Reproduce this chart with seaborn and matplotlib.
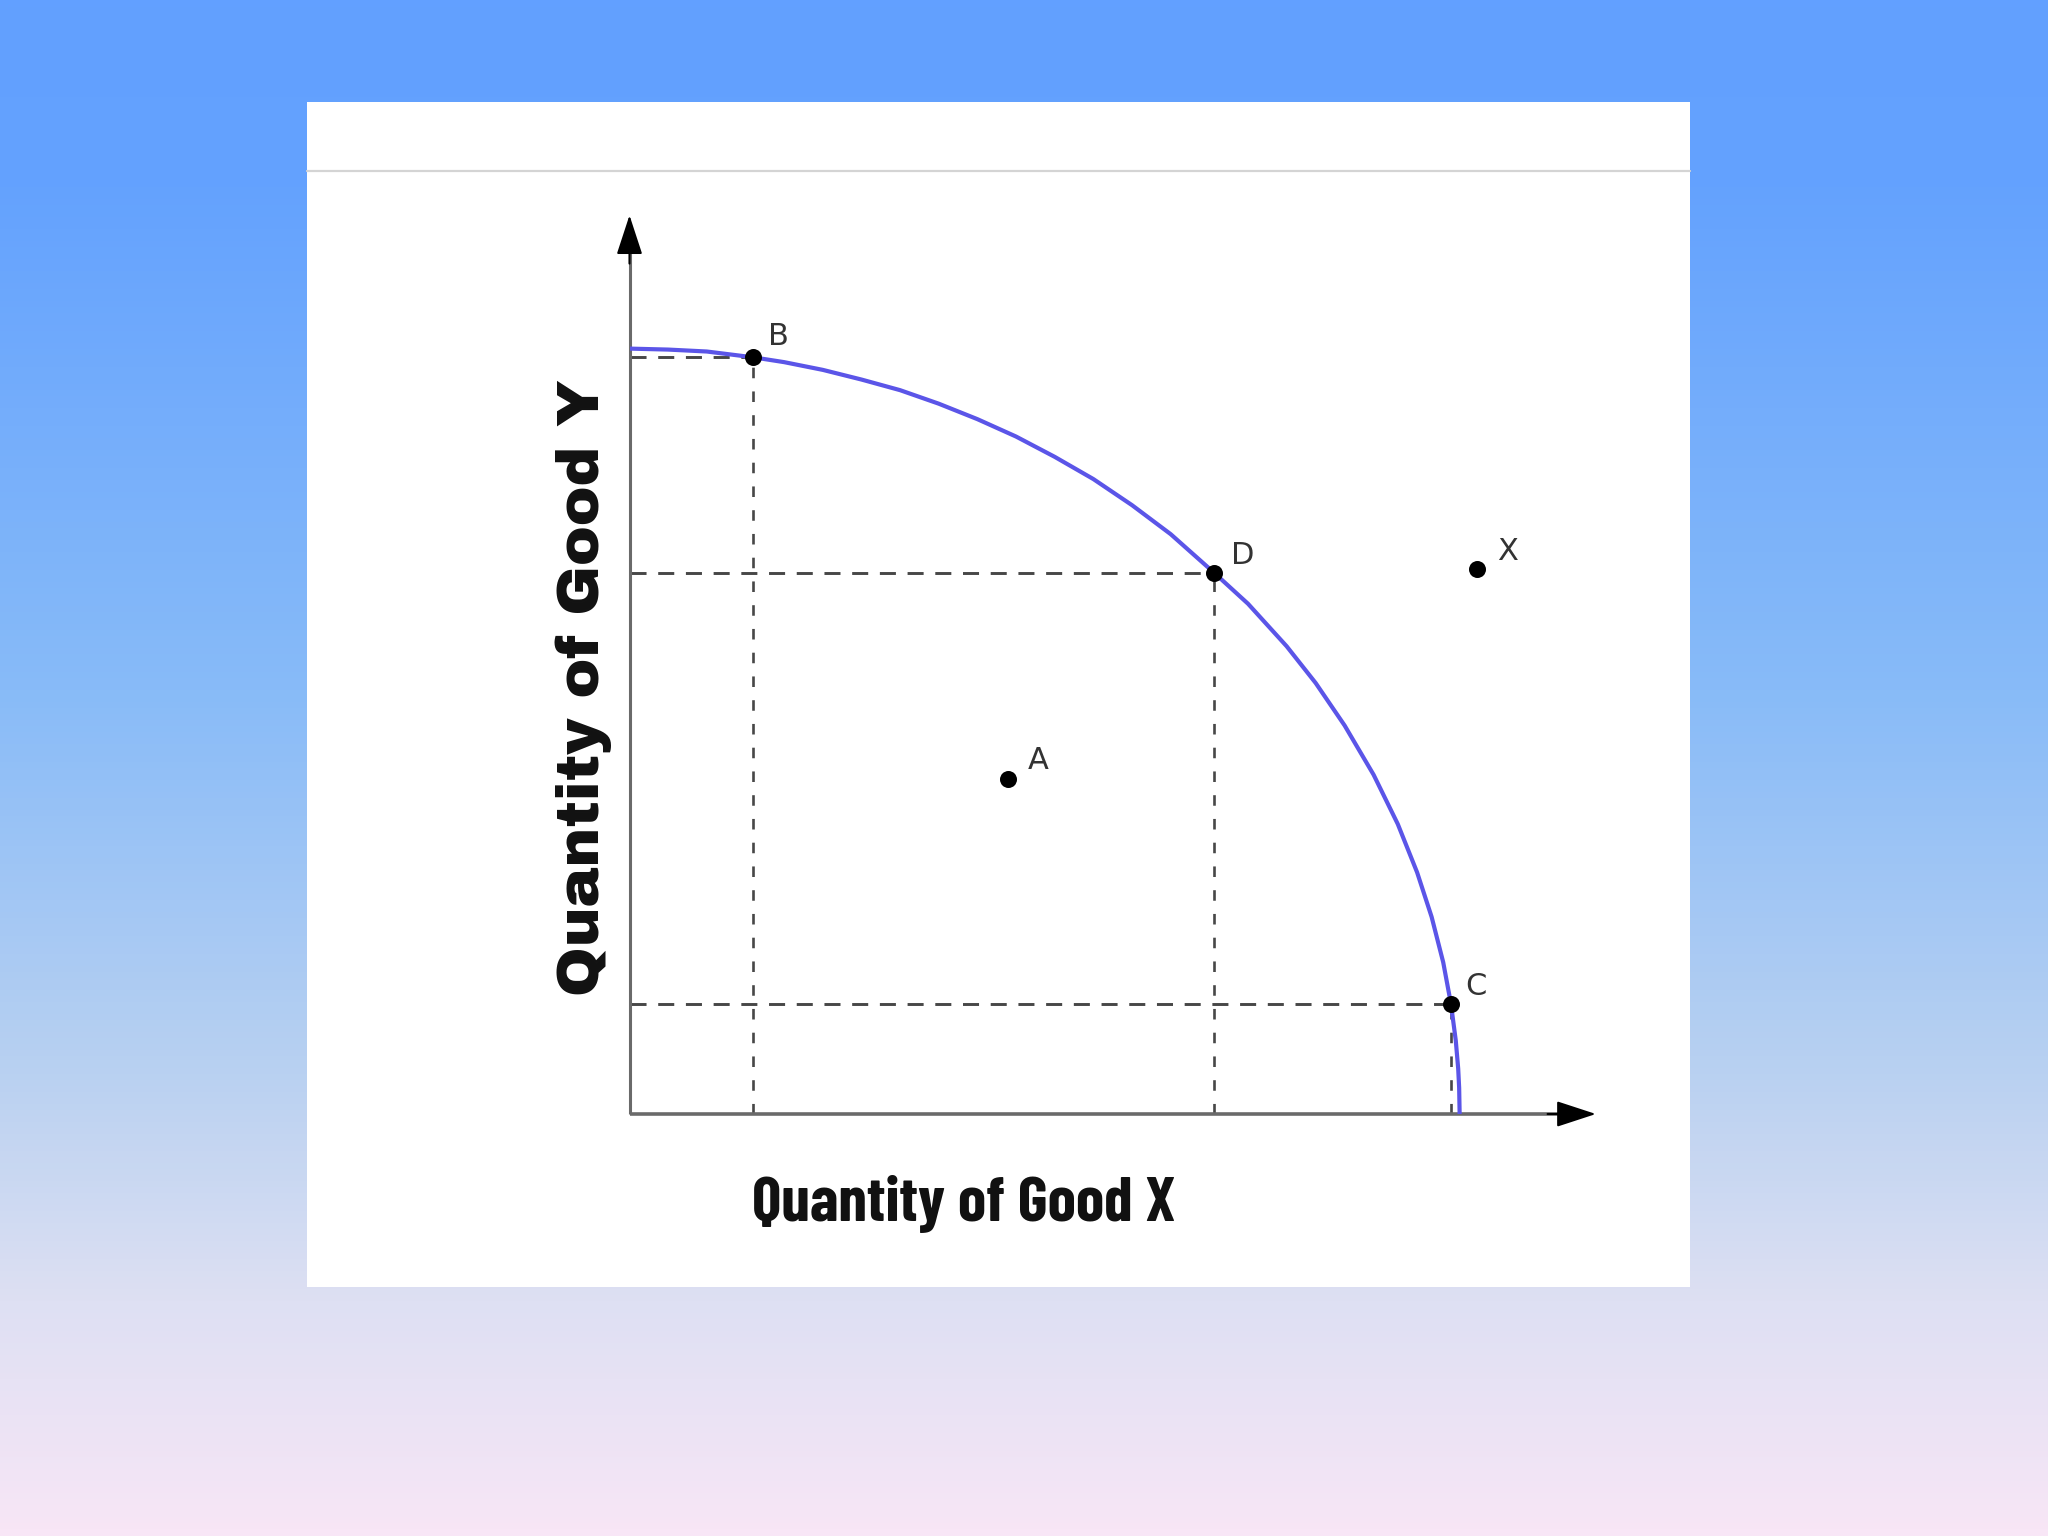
import numpy as np
import pandas as pd
import matplotlib
matplotlib.use("Agg")
import matplotlib.pyplot as plt
import seaborn as sns
from matplotlib.colors import LinearSegmentedColormap
from matplotlib.patches import Rectangle, ArrowStyle
from matplotlib.lines import Line2D

# ---- data ----
curve_x = [0.00, 0.40, 0.80, 1.28, 1.60, 2.00, 2.40, 2.80, 3.20, 3.60, 4.00,
           4.40, 4.80, 5.20, 5.60, 6.05, 6.40, 6.80, 7.10, 7.40, 7.70, 7.95,
           8.15, 8.30, 8.42, 8.50, 8.55, 8.575, 8.585, 8.59]
curve_y = [7.92, 7.91, 7.89, 7.83, 7.78, 7.70, 7.60, 7.49, 7.35, 7.19, 7.01,
           6.80, 6.57, 6.30, 6.00, 5.60, 5.28, 4.84, 4.46, 4.02, 3.51, 3.00,
           2.50, 2.04, 1.57, 1.14, 0.76, 0.47, 0.27, 0.00]

point_labels = ["B", "D", "C", "A", "X"]
point_x = [1.28, 6.05, 8.50, 3.92, 8.77]
point_y = [7.83, 5.60, 1.14, 3.47, 5.64]

guide_points = ["B", "D", "C"]   # points with dashed guides to both axes

x_label = "Quantity of Good X"
y_label = "Quantity of Good Y"

# ---- figure ----
sns.set_theme(style="white")
plt.rcParams["font.family"] = ["DejaVu Sans"]

W, H = 2048, 1536
fig = plt.figure(figsize=(W / 100, H / 100), dpi=100)

# gradient background
bg = fig.add_axes([0, 0, 1, 1], zorder=-10)
cmap = LinearSegmentedColormap.from_list(
    "bg", [(0.0, "#62a0ff"), (0.12, "#64a2fe"), (0.45, "#88bbf8"),
           (0.70, "#b9d1f1"), (0.85, "#dee0f3"), (1.0, "#f8e6f6")])
grad = np.linspace(0, 1, 512).reshape(-1, 1)
bg.imshow(grad, aspect="auto", cmap=cmap, extent=[0, 1, 0, 1], origin="upper")
bg.set_axis_off()

# white panel
fig.patches.append(Rectangle((307 / W, 1 - 1287 / H), (1690 - 307) / W,
                             (1287 - 102) / H, transform=fig.transFigure,
                             facecolor="white", edgecolor="none", zorder=-5))
fig.lines.append(Line2D([307 / W, 1690 / W], [1 - 171 / H, 1 - 171 / H],
                        transform=fig.transFigure, color="#d4d4d4", lw=1.6,
                        zorder=-4))

# main axes: origin at (629.5, 1114) px, 1 unit = 96.64 px
unit = 96.64
x0, y0 = 629.5, 1114
xmax, ymax = 10.4, 9.6
ax = fig.add_axes([x0 / W, (H - y0) / H, xmax * unit / W, ymax * unit / H])
ax.set_facecolor("none")
ax.set_xlim(0, xmax)
ax.set_ylim(0, ymax)
for s in ax.spines.values():
    s.set_visible(False)
ax.set_xticks([])
ax.set_yticks([])

# axes with arrows
ax.plot([0, 9.75], [0, 0], color="#6a6a6a", lw=2.6, solid_capstyle="butt",
        clip_on=False, zorder=3)
ax.plot([0, 0], [0, 9.05], color="#6a6a6a", lw=2.2, solid_capstyle="butt",
        clip_on=False, zorder=3)
astyle = ArrowStyle("-|>", head_length=0.55, head_width=0.18)
ax.annotate("", xy=(10.0, 0), xytext=(9.5, 0),
            arrowprops=dict(arrowstyle=astyle, color="black", lw=1.5,
                            mutation_scale=45, shrinkA=0, shrinkB=0),
            annotation_clip=False, zorder=4)
ax.annotate("", xy=(0, 9.3), xytext=(0, 8.8),
            arrowprops=dict(arrowstyle=astyle, color="black", lw=1.5,
                            mutation_scale=45, shrinkA=0, shrinkB=0),
            annotation_clip=False, zorder=4)

# dashed guide lines
for lab, px, py in zip(point_labels, point_x, point_y):
    if lab in guide_points:
        ax.plot([0, px], [py, py], color="#474747", lw=2.1,
                dashes=(5.5, 4.0), zorder=2)
        ax.plot([px, px], [0, py], color="#474747", lw=1.9,
                dashes=(4.0, 5.0), zorder=2)

# production possibility curve
curve = pd.DataFrame({"x": curve_x, "y": curve_y})
sns.lineplot(data=curve, x="x", y="y", sort=False, color="#5b55e8",
             lw=3.0, ax=ax, zorder=5)

# points
pts = pd.DataFrame({"label": point_labels, "x": point_x, "y": point_y})
sns.scatterplot(data=pts, x="x", y="y", color="black", s=150,
                edgecolor="black", linewidth=0, ax=ax, zorder=6)

label_dx = {"B": 0.26, "D": 0.30, "C": 0.26, "A": 0.31, "X": 0.32}
label_dy = {"B": 0.22, "D": 0.18, "C": 0.18, "A": 0.19, "X": 0.18}
for lab, px, py in zip(point_labels, point_x, point_y):
    ax.text(px + label_dx[lab], py + label_dy[lab], lab, fontsize=22,
            color="#333333", ha="center", va="center", zorder=7)

ax.set_xlabel("")
ax.set_ylabel("")

# axis titles
ax.text(-0.47, 4.41, y_label, rotation=90, ha="center", va="center",
        fontsize=43, fontweight="bold", color="#111111",
        family=["Archivo Black", "DejaVu Sans"], clip_on=False)
ax.text(3.46, -0.93, x_label, ha="center", va="center",
        fontsize=46, fontweight="bold", color="#111111",
        family=["Barlow Condensed", "DejaVu Sans"], clip_on=False)

fig.savefig("out.png", dpi=100)
